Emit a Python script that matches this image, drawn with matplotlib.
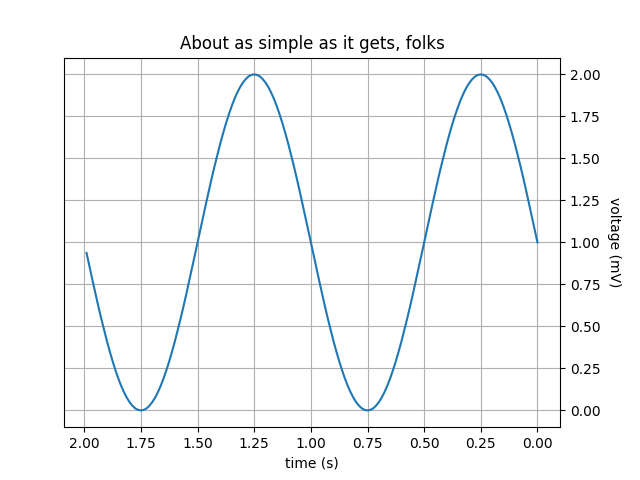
import numpy as np
import matplotlib
matplotlib.use('Agg')
import matplotlib.pyplot as plt

# Time samples (s): every 0.0125 s, plus the last sample at 1.99 s
time_s = list(np.arange(0.0, 2.0, 0.0125)) + [1.99]

# Voltage (mV), one period of the wave
one_period = [1.000, 1.078, 1.156, 1.233, 1.309, 1.383, 1.454, 1.522, 1.588, 1.649,
              1.707, 1.760, 1.809, 1.853, 1.891, 1.924, 1.951, 1.972, 1.988, 1.997,
              2.000, 1.997, 1.988, 1.972, 1.951, 1.924, 1.891, 1.853, 1.809, 1.760,
              1.707, 1.649, 1.588, 1.522, 1.454, 1.383, 1.309, 1.233, 1.156, 1.078,
              1.000, 0.922, 0.844, 0.767, 0.691, 0.617, 0.546, 0.478, 0.412, 0.351,
              0.293, 0.240, 0.191, 0.147, 0.109, 0.076, 0.049, 0.028, 0.012, 0.003,
              0.000, 0.003, 0.012, 0.028, 0.049, 0.076, 0.109, 0.147, 0.191, 0.240,
              0.293, 0.351, 0.412, 0.478, 0.546, 0.617, 0.691, 0.767, 0.844, 0.922]
voltage_mv = one_period + one_period + [0.937]

fig, ax = plt.subplots(figsize=(6.4, 4.8), dpi=100)
fig.subplots_adjust(left=0.1, right=0.875)

ax.plot(time_s, voltage_mv)

# Mirrored layout: time runs right to left, y axis on the right
ax.invert_xaxis()
ax.yaxis.tick_right()
ax.yaxis.set_label_position('right')

ax.set_xticks([0.0, 0.25, 0.5, 0.75, 1.0, 1.25, 1.5, 1.75, 2.0])
ax.set_yticks([0.0, 0.25, 0.5, 0.75, 1.0, 1.25, 1.5, 1.75, 2.0])
ax.xaxis.set_major_formatter('{x:.2f}')
ax.yaxis.set_major_formatter('{x:.2f}')

ax.set_xlabel('time (s)')
ax.set_ylabel('voltage (mV)', rotation=-90, labelpad=15)
ax.set_title('About as simple as it gets, folks')
ax.grid(True)

fig.savefig('out.png')
